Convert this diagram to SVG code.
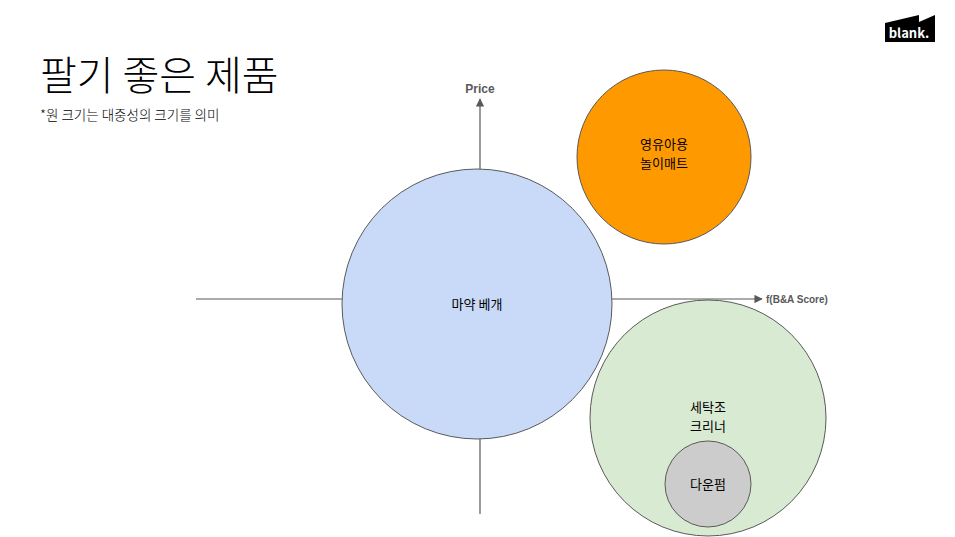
<svg xmlns="http://www.w3.org/2000/svg" width="955" height="537" viewBox="0 0 955 537">
<style>
text{font-family:"Noto Sans CJK KR","Noto Sans",sans-serif;fill:#000}
.ax{stroke:#595959;stroke-width:1.2;fill:none}
.c{stroke:#595959;stroke-width:1}
.lbl{font-size:13px;text-anchor:middle}
.axl{font-family:"Liberation Sans",Arial,sans-serif;font-weight:bold;fill:#595959}
</style>
<defs><marker id="ar" viewBox="0 0 10 10" refX="9" refY="5" markerWidth="7" markerHeight="7" orient="auto"><path d="M0,0L10,5L0,10z" fill="#595959"/></marker></defs>
<rect width="955" height="537" fill="#fff"/>
<g id="logo"><path d="M885,42V23L919,15V22L935,15V42Z" fill="#000"/><text x="909" y="38" font-family="Lato,sans-serif" font-weight="bold" font-size="13" text-anchor="middle" style="fill:#fff">blank.</text></g>
<text x="40" y="90" font-size="40" font-weight="300">팔기 좋은 제품</text>
<text x="40" y="120" font-size="13.5" font-weight="300">*원 크기는 대중성의 크기를 의미</text>
<g id="connectors">
<line class="ax" x1="196" y1="299" x2="762" y2="299" marker-end="url(#ar)"/>
<line class="ax" x1="480" y1="514" x2="480" y2="99" marker-end="url(#ar)"/>
</g>
<text class="axl" x="480" y="93" font-size="12" text-anchor="middle">Price</text>
<text class="axl" x="766" y="303" font-size="10">f(B&amp;A Score)</text>
<g id="n-blue"><circle class="c" cx="477" cy="304" r="135" fill="#c9daf8"/><text class="lbl" x="477" y="309">마약 베개</text></g>
<g id="n-orange"><circle class="c" cx="664" cy="157" r="87" fill="#ff9900"/><text class="lbl" x="664" y="149">영유아용</text><text class="lbl" x="664" y="168">놀이매트</text></g>
<g id="n-green"><circle class="c" cx="708" cy="418" r="118" fill="#d9ead3"/><text class="lbl" x="708" y="412">세탁조</text><text class="lbl" x="708" y="431">크리너</text></g>
<g id="n-gray"><circle class="c" cx="708" cy="484" r="43" fill="#cccccc"/><text class="lbl" x="708" y="489">다운펌</text></g>
</svg>
